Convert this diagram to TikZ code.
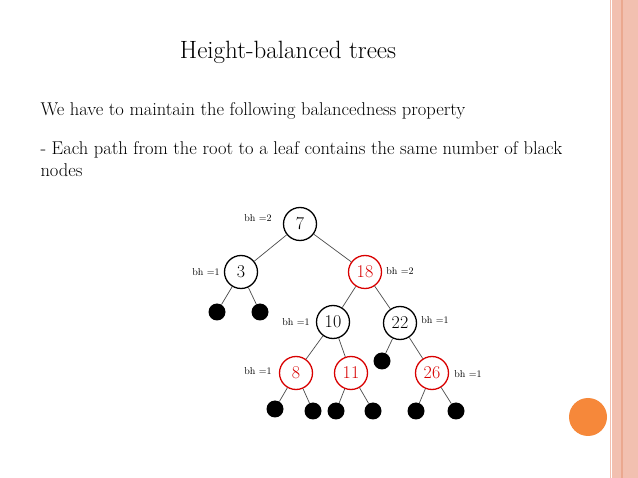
\documentclass[tikz,border=0pt]{standalone}
\begin{document}
\begin{tikzpicture}[x=1pt,y=-1pt,
  tn/.style={circle,draw,line width=1.3pt,minimum size=33pt,inner sep=0pt,font=\fontsize{18}{18}\selectfont},
  rn/.style={tn,draw=red!85!black,text=red!85!black},
  lf/.style={circle,fill=black,minimum size=17pt,inner sep=0pt},
  bh/.style={font=\fontsize{10}{10}\selectfont},
  ed/.style={draw=black!70,line width=0.7pt}]
\definecolor{strip}{HTML}{F2C0B0}
\definecolor{stripd}{HTML}{EBA88F}
\definecolor{dot}{HTML}{F6883A}
\useasboundingbox (0,0) rectangle (638,478);
\fill[white] (0,0) rectangle (638,478);
\fill[strip] (612,0) rectangle (638,478);
\fill[stripd] (621,0) rectangle (623,478);
\draw[strip,line width=1pt] (610,0) -- (610,478);
\fill[dot] (588,417) circle (19);
\node[font=\fontsize{25}{25}\selectfont] (title) at (288,52) {Height-balanced trees};
\node[anchor=west,font=\fontsize{18.5}{18.5}\selectfont] (l1) at (37,111) {We have to maintain the following balancedness property};
\node[anchor=west,font=\fontsize{18.5}{18.5}\selectfont] (l2) at (37,150) {- Each path from the root to a leaf contains the same number of black};
\node[anchor=west,font=\fontsize{18.5}{18.5}\selectfont] (l3) at (37,170) {nodes};
\node[tn] (n7) at (300,224) {7};
\node[tn] (n3) at (241,272) {3};
\node[rn] (n18) at (365,272) {18};
\node[tn] (n10) at (333,322) {10};
\node[tn] (n22) at (400,323) {22};
\node[rn] (n8) at (296,373) {8};
\node[rn] (n11) at (351,373) {11};
\node[rn] (n26) at (432,373) {26};
\node[lf] (a) at (217,312) {};
\node[lf] (b) at (260,312) {};
\node[lf] (c) at (382,361) {};
\node[lf] (d) at (275,409) {};
\node[lf] (e) at (313,411) {};
\node[lf] (f) at (336,411) {};
\node[lf] (g) at (373,411) {};
\node[lf] (h) at (416,411) {};
\node[lf] (i) at (456,411) {};
\path[ed] (n7)--(n3) (n7)--(n18) (n3)--(a) (n3)--(b) (n18)--(n10) (n18)--(n22)
  (n10)--(n8) (n10)--(n11) (n22)--(c) (n22)--(n26) (n8)--(d) (n8)--(e) (n11)--(f) (n11)--(g) (n26)--(h) (n26)--(i);
\node[bh] (b1) at (258,218) {bh =2};
\node[bh] (b2) at (206,272) {bh =1};
\node[bh] (b3) at (400,271) {bh =2};
\node[bh] (b4) at (296,322) {bh =1};
\node[bh] (b5) at (435,320) {bh =1};
\node[bh] (b6) at (258,371) {bh =1};
\node[bh] (b7) at (468,374) {bh =1};
\end{tikzpicture}
\end{document}
